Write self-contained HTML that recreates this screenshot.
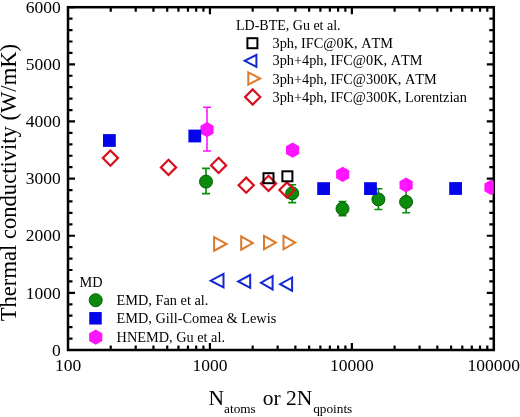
<!DOCTYPE html><html><head><meta charset="utf-8"><style>html,body{margin:0;padding:0;background:#fff;}svg{display:block;}text{font-family:"Liberation Serif","Times New Roman",serif;fill:#000;font-kerning:none;}</style></head><body>
<svg width="520" height="417" viewBox="0 0 520 417">
<defs><clipPath id="c"><rect x="68.00" y="7.20" width="425.80" height="342.80"/></clipPath></defs>
<path d="M68.00 350.00H75.00M493.80 350.00H486.80M68.00 338.57H72.50M493.80 338.57H489.30M68.00 327.15H72.50M493.80 327.15H489.30M68.00 315.72H72.50M493.80 315.72H489.30M68.00 304.29H72.50M493.80 304.29H489.30M68.00 292.87H75.00M493.80 292.87H486.80M68.00 281.44H72.50M493.80 281.44H489.30M68.00 270.01H72.50M493.80 270.01H489.30M68.00 258.59H72.50M493.80 258.59H489.30M68.00 247.16H72.50M493.80 247.16H489.30M68.00 235.73H75.00M493.80 235.73H486.80M68.00 224.31H72.50M493.80 224.31H489.30M68.00 212.88H72.50M493.80 212.88H489.30M68.00 201.45H72.50M493.80 201.45H489.30M68.00 190.03H72.50M493.80 190.03H489.30M68.00 178.60H75.00M493.80 178.60H486.80M68.00 167.17H72.50M493.80 167.17H489.30M68.00 155.75H72.50M493.80 155.75H489.30M68.00 144.32H72.50M493.80 144.32H489.30M68.00 132.89H72.50M493.80 132.89H489.30M68.00 121.47H75.00M493.80 121.47H486.80M68.00 110.04H72.50M493.80 110.04H489.30M68.00 98.61H72.50M493.80 98.61H489.30M68.00 87.19H72.50M493.80 87.19H489.30M68.00 75.76H72.50M493.80 75.76H489.30M68.00 64.33H75.00M493.80 64.33H486.80M68.00 52.91H72.50M493.80 52.91H489.30M68.00 41.48H72.50M493.80 41.48H489.30M68.00 30.05H72.50M493.80 30.05H489.30M68.00 18.63H72.50M493.80 18.63H489.30M68.00 7.20H75.00M493.80 7.20H486.80M110.73 350.00V345.50M110.73 7.20V11.70M135.72 350.00V345.50M135.72 7.20V11.70M153.45 350.00V345.50M153.45 7.20V11.70M167.21 350.00V345.50M167.21 7.20V11.70M178.45 350.00V345.50M178.45 7.20V11.70M187.95 350.00V345.50M187.95 7.20V11.70M196.18 350.00V345.50M196.18 7.20V11.70M203.44 350.00V345.50M203.44 7.20V11.70M209.93 350.00V343.00M209.93 7.20V14.20M252.66 350.00V345.50M252.66 7.20V11.70M277.65 350.00V345.50M277.65 7.20V11.70M295.39 350.00V345.50M295.39 7.20V11.70M309.14 350.00V345.50M309.14 7.20V11.70M320.38 350.00V345.50M320.38 7.20V11.70M329.88 350.00V345.50M329.88 7.20V11.70M338.11 350.00V345.50M338.11 7.20V11.70M345.37 350.00V345.50M345.37 7.20V11.70M351.87 350.00V343.00M351.87 7.20V14.20M394.59 350.00V345.50M394.59 7.20V11.70M419.59 350.00V345.50M419.59 7.20V11.70M437.32 350.00V345.50M437.32 7.20V11.70M451.07 350.00V345.50M451.07 7.20V11.70M462.31 350.00V345.50M462.31 7.20V11.70M471.81 350.00V345.50M471.81 7.20V11.70M480.05 350.00V345.50M480.05 7.20V11.70M487.31 350.00V345.50M487.31 7.20V11.70" stroke="#000" stroke-width="2.2" fill="none"/>
<rect x="68.00" y="7.20" width="425.80" height="342.80" fill="none" stroke="#000" stroke-width="2.50"/>
<text x="60.8" y="349.70" font-size="17.5" text-anchor="end" dominant-baseline="central">0</text>
<text x="60.8" y="292.57" font-size="17.5" text-anchor="end" dominant-baseline="central">1000</text>
<text x="60.8" y="235.43" font-size="17.5" text-anchor="end" dominant-baseline="central">2000</text>
<text x="60.8" y="178.30" font-size="17.5" text-anchor="end" dominant-baseline="central">3000</text>
<text x="60.8" y="121.17" font-size="17.5" text-anchor="end" dominant-baseline="central">4000</text>
<text x="60.8" y="64.03" font-size="17.5" text-anchor="end" dominant-baseline="central">5000</text>
<text x="60.8" y="6.90" font-size="17.5" text-anchor="end" dominant-baseline="central">6000</text>
<text x="68.00" y="371.2" font-size="17.5" text-anchor="middle">100</text>
<text x="209.93" y="371.2" font-size="17.5" text-anchor="middle">1000</text>
<text x="351.87" y="371.2" font-size="17.5" text-anchor="middle">10000</text>
<text x="493.80" y="371.2" font-size="17.5" text-anchor="middle">100000</text>
<text transform="translate(16.2,182.6) rotate(-90)" font-size="22.6" text-anchor="middle">Thermal conductivity (W/mK)</text>
<text x="208.5" y="404.8" font-size="21.5">N<tspan font-size="13.3" dy="8.6">atoms</tspan><tspan dy="-8.6" dx="1.5"> or 2N</tspan><tspan font-size="13.3" dy="8.6" dx="0.9">qpoints</tspan></text>
<g clip-path="url(#c)"><path d="M206.00 168.40V193.60M202.00 168.40H210.00M202.00 193.60H210.00" stroke="#0b8a0b" stroke-width="1.6" fill="none"/><circle cx="206.00" cy="181.60" r="6.50" fill="#0b8a0b" stroke="#066006" stroke-width="1"/><path d="M292.20 184.70V202.60M288.20 184.70H296.20M288.20 202.60H296.20" stroke="#0b8a0b" stroke-width="1.6" fill="none"/><circle cx="292.20" cy="193.30" r="6.50" fill="#0b8a0b" stroke="#066006" stroke-width="1"/><path d="M342.50 201.50V215.80M338.50 201.50H346.50M338.50 215.80H346.50" stroke="#0b8a0b" stroke-width="1.6" fill="none"/><circle cx="342.50" cy="208.70" r="6.50" fill="#0b8a0b" stroke="#066006" stroke-width="1"/><path d="M378.40 188.80V209.50M374.40 188.80H382.40M374.40 209.50H382.40" stroke="#0b8a0b" stroke-width="1.6" fill="none"/><circle cx="378.40" cy="199.40" r="6.50" fill="#0b8a0b" stroke="#066006" stroke-width="1"/><path d="M406.10 186.00V212.80M402.10 186.00H410.10M402.10 212.80H410.10" stroke="#0b8a0b" stroke-width="1.6" fill="none"/><circle cx="406.10" cy="201.90" r="6.50" fill="#0b8a0b" stroke="#066006" stroke-width="1"/><path d="M207.00 107.20V151.00M203.00 107.20H211.00M203.00 151.00H211.00" stroke="#ff14ff" stroke-width="1.6" fill="none"/><polygon points="207.00,122.00 200.42,125.80 200.42,133.40 207.00,137.20 213.58,133.40 213.58,125.80" fill="#ff14ff"/><polygon points="292.60,142.50 286.02,146.30 286.02,153.90 292.60,157.70 299.18,153.90 299.18,146.30" fill="#ff14ff"/><polygon points="342.70,166.80 336.12,170.60 336.12,178.20 342.70,182.00 349.28,178.20 349.28,170.60" fill="#ff14ff"/><polygon points="406.10,177.40 399.52,181.20 399.52,188.80 406.10,192.60 412.68,188.80 412.68,181.20" fill="#ff14ff"/><polygon points="491.00,179.80 484.42,183.60 484.42,191.20 491.00,195.00 497.58,191.20 497.58,183.60" fill="#ff14ff"/><rect x="103.00" y="134.10" width="12.80" height="12.80" fill="#0505ea"/><rect x="188.40" y="129.60" width="12.80" height="12.80" fill="#0505ea"/><rect x="317.20" y="182.20" width="12.80" height="12.80" fill="#0505ea"/><rect x="364.10" y="182.20" width="12.80" height="12.80" fill="#0505ea"/><rect x="449.20" y="182.10" width="12.80" height="12.80" fill="#0505ea"/><path d="M110.40 150.50L118.00 158.10L110.40 165.70L102.80 158.10Z" fill="none" stroke="#d8101e" stroke-width="2.2" stroke-linejoin="miter"/><path d="M168.50 159.80L176.10 167.40L168.50 175.00L160.90 167.40Z" fill="none" stroke="#d8101e" stroke-width="2.2" stroke-linejoin="miter"/><path d="M218.60 157.80L226.20 165.40L218.60 173.00L211.00 165.40Z" fill="none" stroke="#d8101e" stroke-width="2.2" stroke-linejoin="miter"/><path d="M246.20 177.60L253.80 185.20L246.20 192.80L238.60 185.20Z" fill="none" stroke="#d8101e" stroke-width="2.2" stroke-linejoin="miter"/><path d="M268.50 175.80L276.10 183.40L268.50 191.00L260.90 183.40Z" fill="none" stroke="#d8101e" stroke-width="2.2" stroke-linejoin="miter"/><path d="M287.00 182.40L294.60 190.00L287.00 197.60L279.40 190.00Z" fill="none" stroke="#d8101e" stroke-width="2.2" stroke-linejoin="miter"/><rect x="263.50" y="173.20" width="10.00" height="10.00" fill="none" stroke="#000" stroke-width="2.0"/><rect x="282.40" y="171.30" width="10.00" height="10.00" fill="none" stroke="#000" stroke-width="2.0"/><path d="M214.10 237.10L226.60 243.90L214.10 250.70Z" fill="none" stroke="#dc7a2a" stroke-width="2.0" stroke-linejoin="miter"/><path d="M241.20 236.40L252.80 243.05L241.20 249.70Z" fill="none" stroke="#dc7a2a" stroke-width="2.0" stroke-linejoin="miter"/><path d="M264.00 235.90L275.80 242.60L264.00 249.30Z" fill="none" stroke="#dc7a2a" stroke-width="2.0" stroke-linejoin="miter"/><path d="M283.50 235.90L295.10 242.60L283.50 249.30Z" fill="none" stroke="#dc7a2a" stroke-width="2.0" stroke-linejoin="miter"/><path d="M223.50 273.90L210.70 280.65L223.50 287.40Z" fill="none" stroke="#1428d2" stroke-width="2.0" stroke-linejoin="miter"/><path d="M250.20 275.00L238.20 281.40L250.20 287.80Z" fill="none" stroke="#1428d2" stroke-width="2.0" stroke-linejoin="miter"/><path d="M272.60 276.10L261.00 282.75L272.60 289.40Z" fill="none" stroke="#1428d2" stroke-width="2.0" stroke-linejoin="miter"/><path d="M292.10 277.50L280.10 284.20L292.10 290.90Z" fill="none" stroke="#1428d2" stroke-width="2.0" stroke-linejoin="miter"/></g>
<text x="236.0" y="29.6" font-size="14.0">LD-BTE, Gu et al.</text>
<rect x="247.40" y="38.20" width="10.00" height="10.00" fill="none" stroke="#000" stroke-width="2.0"/><path d="M256.40 54.80L244.70 60.80L256.40 66.80Z" fill="none" stroke="#1428d2" stroke-width="2.0" stroke-linejoin="miter"/><path d="M248.30 72.40L260.20 78.50L248.30 84.60Z" fill="none" stroke="#dc7a2a" stroke-width="2.0" stroke-linejoin="miter"/><path d="M252.70 89.40L260.30 97.00L252.70 104.60L245.10 97.00Z" fill="none" stroke="#d8101e" stroke-width="2.2" stroke-linejoin="miter"/><circle cx="95.70" cy="300.20" r="6.50" fill="#0b8a0b" stroke="#066006" stroke-width="1"/><rect x="89.25" y="312.05" width="12.50" height="12.50" fill="#0505ea"/><polygon points="95.70,329.50 89.12,333.30 89.12,340.90 95.70,344.70 102.28,340.90 102.28,333.30" fill="#ff14ff"/>
<text x="272.5" y="47.7" font-size="14.3">3ph, IFC@0K, ATM</text>
<text x="272.5" y="65.4" font-size="14.3">3ph+4ph, IFC@0K, ATM</text>
<text x="272.5" y="83.8" font-size="14.3">3ph+4ph, IFC@300K, ATM</text>
<text x="272.5" y="102.1" font-size="14.3">3ph+4ph, IFC@300K, Lorentzian</text>
<text x="79.6" y="287.0" font-size="14.3">MD</text>
<text x="116.6" y="305.4" font-size="14.3">EMD, Fan et al.</text>
<text x="116.6" y="323.3" font-size="14.3">EMD, Gill-Comea &amp; Lewis</text>
<text x="116.6" y="342.2" font-size="14.3">HNEMD, Gu et al.</text>
</svg></body></html>
